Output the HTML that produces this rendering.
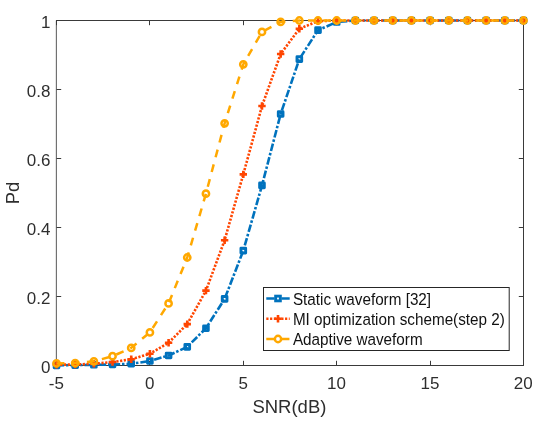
<!DOCTYPE html>
<html><head><meta charset="utf-8"><title>Pd vs SNR</title>
<style>html,body{margin:0;padding:0;background:#fff}body{width:550px;height:428px;position:relative;overflow:hidden}.t,text{font-family:"Liberation Sans",Arial,sans-serif}</style></head>
<body>
<svg width="550" height="428" viewBox="0 0 550 428" style="position:absolute;left:0;top:0">
<rect width="550" height="428" fill="#fff"/>
<path d="M56.0 20.5H524.0M523.5 20.5V365.5M56.0 365.5H524.0" fill="none" stroke="#3a3a3a" stroke-width="1"/>
<path d="M56.35 20.5V365.5" fill="none" stroke="#3a3a3a" stroke-width="0.85"/>
<path d="M56.5 365.5v-4.7M56.5 20.5v4.7M149.5 365.5v-4.7M149.5 20.5v4.7M243.5 365.5v-4.7M243.5 20.5v4.7M336.5 365.5v-4.7M336.5 20.5v4.7M430.5 365.5v-4.7M430.5 20.5v4.7M523.5 365.5v-4.7M523.5 20.5v4.7M56.5 365.5h4.7M523.5 365.5h-4.7M56.5 296.5h4.7M523.5 296.5h-4.7M56.5 227.5h4.7M523.5 227.5h-4.7M56.5 158.5h4.7M523.5 158.5h-4.7M56.5 89.5h4.7M523.5 89.5h-4.7M56.5 20.5h4.7M523.5 20.5h-4.7" stroke="#3a3a3a" stroke-width="1" fill="none"/>
<g fill="none" stroke-linejoin="round">
<polyline points="56.50,365.33 75.18,365.15 93.86,364.81 112.54,364.46 131.22,363.77 149.90,361.01 168.58,355.50 187.26,346.87 205.94,328.24 224.62,298.91 243.30,250.62 261.98,185.41 280.66,114.00 299.34,59.14 318.02,30.16 336.70,22.05 355.38,20.50 374.06,20.50 392.74,20.50 411.42,20.50 430.10,20.50 448.78,20.50 467.46,20.50 486.14,20.50 504.82,20.50 523.50,20.50" stroke="#0072BD" stroke-width="2.6" stroke-dasharray="7.7 1.8 2.5 2"/>
<rect x="54.15" y="362.98" width="4.7" height="4.7" stroke="#0072BD" stroke-width="2.9"/>
<rect x="72.83" y="362.80" width="4.7" height="4.7" stroke="#0072BD" stroke-width="2.9"/>
<rect x="91.51" y="362.46" width="4.7" height="4.7" stroke="#0072BD" stroke-width="2.9"/>
<rect x="110.19" y="362.11" width="4.7" height="4.7" stroke="#0072BD" stroke-width="2.9"/>
<rect x="128.87" y="361.42" width="4.7" height="4.7" stroke="#0072BD" stroke-width="2.9"/>
<rect x="147.55" y="358.66" width="4.7" height="4.7" stroke="#0072BD" stroke-width="2.9"/>
<rect x="166.23" y="353.14" width="4.7" height="4.7" stroke="#0072BD" stroke-width="2.9"/>
<rect x="184.91" y="344.52" width="4.7" height="4.7" stroke="#0072BD" stroke-width="2.9"/>
<rect x="203.59" y="325.89" width="4.7" height="4.7" stroke="#0072BD" stroke-width="2.9"/>
<rect x="222.27" y="296.56" width="4.7" height="4.7" stroke="#0072BD" stroke-width="2.9"/>
<rect x="240.95" y="248.27" width="4.7" height="4.7" stroke="#0072BD" stroke-width="2.9"/>
<rect x="259.63" y="183.06" width="4.7" height="4.7" stroke="#0072BD" stroke-width="2.9"/>
<rect x="278.31" y="111.65" width="4.7" height="4.7" stroke="#0072BD" stroke-width="2.9"/>
<rect x="296.99" y="56.79" width="4.7" height="4.7" stroke="#0072BD" stroke-width="2.9"/>
<rect x="315.67" y="27.81" width="4.7" height="4.7" stroke="#0072BD" stroke-width="2.9"/>
<rect x="334.35" y="19.70" width="4.7" height="4.7" stroke="#0072BD" stroke-width="2.9"/>
<rect x="353.03" y="18.15" width="4.7" height="4.7" stroke="#0072BD" stroke-width="2.9"/>
<rect x="371.71" y="18.15" width="4.7" height="4.7" stroke="#0072BD" stroke-width="2.9"/>
<rect x="390.39" y="18.15" width="4.7" height="4.7" stroke="#0072BD" stroke-width="2.9"/>
<rect x="409.07" y="18.15" width="4.7" height="4.7" stroke="#0072BD" stroke-width="2.9"/>
<rect x="427.75" y="18.15" width="4.7" height="4.7" stroke="#0072BD" stroke-width="2.9"/>
<rect x="446.43" y="18.15" width="4.7" height="4.7" stroke="#0072BD" stroke-width="2.9"/>
<rect x="465.11" y="18.15" width="4.7" height="4.7" stroke="#0072BD" stroke-width="2.9"/>
<rect x="483.79" y="18.15" width="4.7" height="4.7" stroke="#0072BD" stroke-width="2.9"/>
<rect x="502.47" y="18.15" width="4.7" height="4.7" stroke="#0072BD" stroke-width="2.9"/>
<rect x="521.15" y="18.15" width="4.7" height="4.7" stroke="#0072BD" stroke-width="2.9"/>
<polyline points="56.50,364.81 75.18,364.46 93.86,363.77 112.54,362.05 131.22,359.29 149.90,353.77 168.58,342.73 187.26,324.10 205.94,290.63 224.62,240.26 243.30,174.37 261.98,106.06 280.66,53.96 299.34,28.78 318.02,21.19 336.70,20.50 355.38,20.50 374.06,20.50 392.74,20.50 411.42,20.50 430.10,20.50 448.78,20.50 467.46,20.50 486.14,20.50 504.82,20.50 523.50,20.50" stroke="#FF4500" stroke-width="2.6" stroke-dasharray="2.2 1.55"/>
<path d="M52.80 364.81h7.4M56.50 361.11v7.4" stroke="#FF4500" stroke-width="2.6"/>
<path d="M71.48 364.46h7.4M75.18 360.76v7.4" stroke="#FF4500" stroke-width="2.6"/>
<path d="M90.16 363.77h7.4M93.86 360.07v7.4" stroke="#FF4500" stroke-width="2.6"/>
<path d="M108.84 362.05h7.4M112.54 358.35v7.4" stroke="#FF4500" stroke-width="2.6"/>
<path d="M127.52 359.29h7.4M131.22 355.59v7.4" stroke="#FF4500" stroke-width="2.6"/>
<path d="M146.20 353.77h7.4M149.90 350.07v7.4" stroke="#FF4500" stroke-width="2.6"/>
<path d="M164.88 342.73h7.4M168.58 339.03v7.4" stroke="#FF4500" stroke-width="2.6"/>
<path d="M183.56 324.10h7.4M187.26 320.40v7.4" stroke="#FF4500" stroke-width="2.6"/>
<path d="M202.24 290.63h7.4M205.94 286.94v7.4" stroke="#FF4500" stroke-width="2.6"/>
<path d="M220.92 240.26h7.4M224.62 236.56v7.4" stroke="#FF4500" stroke-width="2.6"/>
<path d="M239.60 174.37h7.4M243.30 170.67v7.4" stroke="#FF4500" stroke-width="2.6"/>
<path d="M258.28 106.06h7.4M261.98 102.36v7.4" stroke="#FF4500" stroke-width="2.6"/>
<path d="M276.96 53.96h7.4M280.66 50.26v7.4" stroke="#FF4500" stroke-width="2.6"/>
<path d="M295.64 28.78h7.4M299.34 25.08v7.4" stroke="#FF4500" stroke-width="2.6"/>
<path d="M314.32 21.19h7.4M318.02 17.49v7.4" stroke="#FF4500" stroke-width="2.6"/>
<path d="M333.00 20.50h7.4M336.70 16.80v7.4" stroke="#FF4500" stroke-width="2.6"/>
<path d="M351.68 20.50h7.4M355.38 16.80v7.4" stroke="#FF4500" stroke-width="2.6"/>
<path d="M370.36 20.50h7.4M374.06 16.80v7.4" stroke="#FF4500" stroke-width="2.6"/>
<path d="M389.04 20.50h7.4M392.74 16.80v7.4" stroke="#FF4500" stroke-width="2.6"/>
<path d="M407.72 20.50h7.4M411.42 16.80v7.4" stroke="#FF4500" stroke-width="2.6"/>
<path d="M426.40 20.50h7.4M430.10 16.80v7.4" stroke="#FF4500" stroke-width="2.6"/>
<path d="M445.08 20.50h7.4M448.78 16.80v7.4" stroke="#FF4500" stroke-width="2.6"/>
<path d="M463.76 20.50h7.4M467.46 16.80v7.4" stroke="#FF4500" stroke-width="2.6"/>
<path d="M482.44 20.50h7.4M486.14 16.80v7.4" stroke="#FF4500" stroke-width="2.6"/>
<path d="M501.12 20.50h7.4M504.82 16.80v7.4" stroke="#FF4500" stroke-width="2.6"/>
<path d="M519.80 20.50h7.4M523.50 16.80v7.4" stroke="#FF4500" stroke-width="2.6"/>
<polyline points="56.50,363.43 75.18,363.08 93.86,361.36 112.54,356.19 131.22,347.90 149.90,332.38 168.58,303.40 187.26,257.51 205.94,193.69 224.62,123.31 243.30,64.31 261.98,31.88 280.66,21.88 299.34,20.50 318.02,20.50 336.70,20.50 355.38,20.50 374.06,20.50 392.74,20.50 411.42,20.50 430.10,20.50 448.78,20.50 467.46,20.50 486.14,20.50 504.82,20.50 523.50,20.50" stroke="#FFA800" stroke-width="2.5" stroke-dasharray="7.9 7.35"/>
<circle cx="56.50" cy="363.43" r="3.15" stroke="#FFA800" stroke-width="2.5"/>
<circle cx="75.18" cy="363.08" r="3.15" stroke="#FFA800" stroke-width="2.5"/>
<circle cx="93.86" cy="361.36" r="3.15" stroke="#FFA800" stroke-width="2.5"/>
<circle cx="112.54" cy="356.19" r="3.15" stroke="#FFA800" stroke-width="2.5"/>
<circle cx="131.22" cy="347.90" r="3.15" stroke="#FFA800" stroke-width="2.5"/>
<circle cx="149.90" cy="332.38" r="3.15" stroke="#FFA800" stroke-width="2.5"/>
<circle cx="168.58" cy="303.40" r="3.15" stroke="#FFA800" stroke-width="2.5"/>
<circle cx="187.26" cy="257.51" r="3.15" stroke="#FFA800" stroke-width="2.5"/>
<circle cx="205.94" cy="193.69" r="3.15" stroke="#FFA800" stroke-width="2.5"/>
<circle cx="224.62" cy="123.31" r="3.15" stroke="#FFA800" stroke-width="2.5"/>
<circle cx="243.30" cy="64.31" r="3.15" stroke="#FFA800" stroke-width="2.5"/>
<circle cx="261.98" cy="31.88" r="3.15" stroke="#FFA800" stroke-width="2.5"/>
<circle cx="280.66" cy="21.88" r="3.15" stroke="#FFA800" stroke-width="2.5"/>
<circle cx="299.34" cy="20.50" r="3.15" stroke="#FFA800" stroke-width="2.5"/>
<circle cx="318.02" cy="20.50" r="3.15" stroke="#FFA800" stroke-width="2.5"/>
<circle cx="336.70" cy="20.50" r="3.15" stroke="#FFA800" stroke-width="2.5"/>
<circle cx="355.38" cy="20.50" r="3.15" stroke="#FFA800" stroke-width="2.5"/>
<circle cx="374.06" cy="20.50" r="3.15" stroke="#FFA800" stroke-width="2.5"/>
<circle cx="392.74" cy="20.50" r="3.15" stroke="#FFA800" stroke-width="2.5"/>
<circle cx="411.42" cy="20.50" r="3.15" stroke="#FFA800" stroke-width="2.5"/>
<circle cx="430.10" cy="20.50" r="3.15" stroke="#FFA800" stroke-width="2.5"/>
<circle cx="448.78" cy="20.50" r="3.15" stroke="#FFA800" stroke-width="2.5"/>
<circle cx="467.46" cy="20.50" r="3.15" stroke="#FFA800" stroke-width="2.5"/>
<circle cx="486.14" cy="20.50" r="3.15" stroke="#FFA800" stroke-width="2.5"/>
<circle cx="504.82" cy="20.50" r="3.15" stroke="#FFA800" stroke-width="2.5"/>
<circle cx="523.50" cy="20.50" r="3.15" stroke="#FFA800" stroke-width="2.5"/>
</g>
<rect x="263.5" y="287.5" width="245.7" height="63.0" fill="#fff" stroke="#262626" stroke-width="1"/>
<g fill="none">
<path d="M266.3 298.5h8.2M281.5 298.5h8.2" stroke="#0072BD" stroke-width="2.6"/>
<rect x="275.65" y="296.15" width="4.7" height="4.7" stroke="#0072BD" stroke-width="2.9"/>
<path d="M266.3 318.8h23.4" stroke="#FF4500" stroke-width="2.6" stroke-dasharray="2.2 1.55"/>
<path d="M274.3 318.8h7.4M278 315.1v7.4" stroke="#FF4500" stroke-width="2.6"/>
<path d="M266.3 339.0h23.4" stroke="#FFA800" stroke-width="2.5" stroke-dasharray="7.9 7.35"/>
<circle cx="278" cy="339.0" r="3.15" stroke="#FFA800" stroke-width="2.5"/>
</g>
<g class="t" font-size="15.26" fill="#111">
<text transform="translate(292.9,305.0) scale(1,1.08)">Static waveform [32]</text>
<text transform="translate(292.9,325.2) scale(1,1.08)">MI optimization scheme(step 2)</text>
<text transform="translate(292.9,345.4) scale(1,1.08)">Adaptive waveform</text>
</g>
<g class="t" font-size="17" fill="#2e2e2e">
<text transform="translate(56.3,388.8) scale(1,0.94)" text-anchor="middle">-5</text>
<text transform="translate(149.7,388.8) scale(1,0.94)" text-anchor="middle">0</text>
<text transform="translate(243.1,388.8) scale(1,0.94)" text-anchor="middle">5</text>
<text transform="translate(336.5,388.8) scale(1,0.94)" text-anchor="middle">10</text>
<text transform="translate(429.9,388.8) scale(1,0.94)" text-anchor="middle">15</text>
<text transform="translate(523.3,388.8) scale(1,0.94)" text-anchor="middle">20</text>
<text transform="translate(50.4,372.7) scale(1,0.94)" text-anchor="end">0</text>
<text transform="translate(50.4,303.7) scale(1,0.94)" text-anchor="end">0.2</text>
<text transform="translate(50.4,234.7) scale(1,0.94)" text-anchor="end">0.4</text>
<text transform="translate(50.4,165.7) scale(1,0.94)" text-anchor="end">0.6</text>
<text transform="translate(50.4,96.7) scale(1,0.94)" text-anchor="end">0.8</text>
<text transform="translate(50.4,27.7) scale(1,0.94)" text-anchor="end">1</text>
</g>
<g class="t" font-size="18.5" fill="#2e2e2e">
<text transform="translate(289.4,412.6) scale(1,0.96)" text-anchor="middle">SNR(dB)</text>
<text transform="translate(19,193.0) rotate(-90) scale(1,0.96)" text-anchor="middle">Pd</text>
</g>
</svg>
</body></html>
